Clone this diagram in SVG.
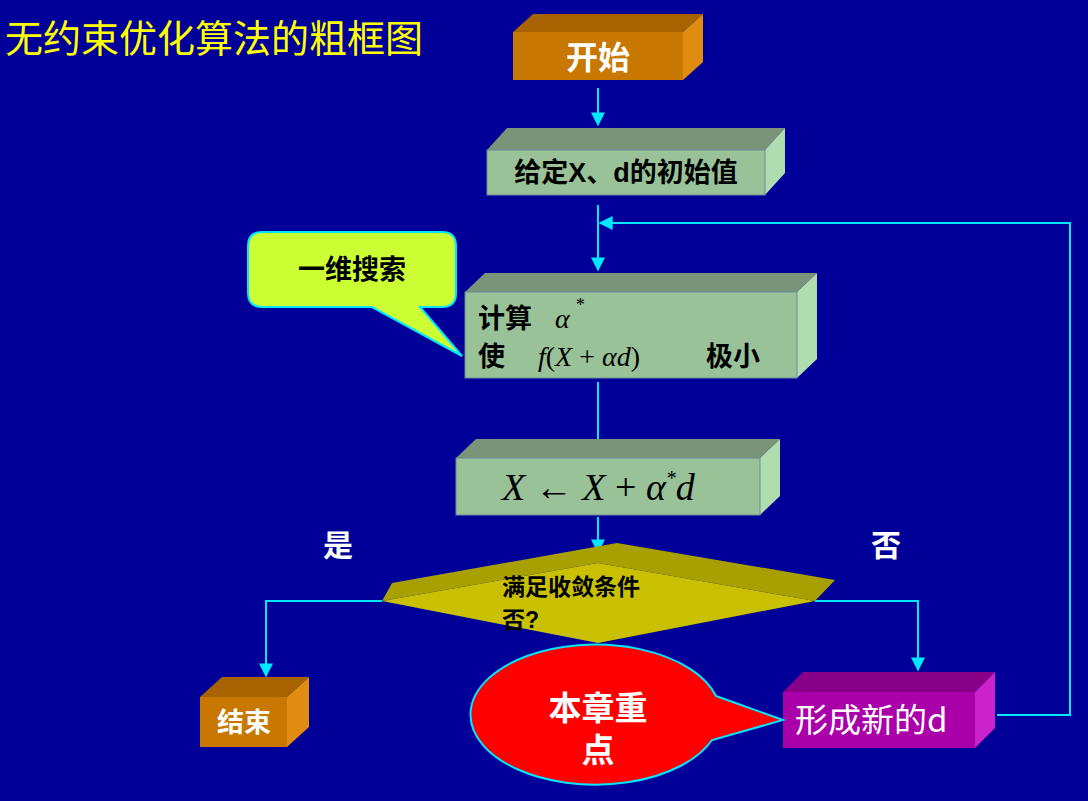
<svg xmlns="http://www.w3.org/2000/svg" width="1088" height="801" viewBox="0 0 1088 801">
<defs>
<style>
.t{font-family:"Liberation Sans","Noto Sans CJK SC",sans-serif;font-weight:bold;}
.m{font-family:"Liberation Serif",serif;font-style:italic;fill:#000;}
.c{stroke:#00e8ff;stroke-width:2;fill:none;}
.gf{fill:#99c299;stroke:#6a8a9a;stroke-width:1}
.gt{fill:#799479}
.gs{fill:#b0ddb0}
</style>
<marker id="a" viewBox="0 0 10 10" refX="9" refY="5" markerWidth="7" markerHeight="7" orient="auto"><path d="M0,0L10,5L0,10z" fill="#00e8ff"/></marker>
</defs>
<rect width="1088" height="801" fill="#000099"/>
<text x="5" y="52" font-family="Noto Sans CJK SC,sans-serif" font-size="38" fill="#ffff00">无约束优化算法的粗框图</text>
<g id="connectors">
<path class="c" d="M598,88V125" marker-end="url(#a)"/>
<path class="c" d="M598,205V270" marker-end="url(#a)"/>
<path class="c" d="M598,382V456" marker-end="url(#a)"/>
<path class="c" d="M598,517V552" marker-end="url(#a)"/>
<path class="c" d="M997,715H1070V223H600" marker-end="url(#a)"/>
<path class="c" d="M382,601H266V676" marker-end="url(#a)"/>
<path class="c" d="M815,601H918V670" marker-end="url(#a)"/>
</g>
<g id="start">
<polygon points="513,32 533,14 703,14 683,32" fill="#a86200"/>
<polygon points="683,32 703,14 703,62 683,80" fill="#e08c10"/>
<rect x="513" y="32" width="170" height="48" fill="#c87800"/>
<text class="t" x="598" y="69" font-size="32" fill="#fff" text-anchor="middle" font-weight="normal">开始</text>
</g>
<g id="init">
<polygon class="gt" points="487,150 507,128 785,128 765,150"/>
<polygon class="gs" points="765,150 785,128 785,173 765,195"/>
<rect class="gf" x="487" y="150" width="278" height="45"/>
<text class="t" x="626" y="182" font-size="27" text-anchor="middle">给定X、d的初始值</text>
</g>
<g id="search">
<polygon class="gt" points="465,292 485,273 817,273 797,292"/>
<polygon class="gs" points="797,292 817,273 817,359 797,378"/>
<rect class="gf" x="465" y="292" width="332" height="86"/>
<text class="t" x="478" y="328" font-size="27">计算</text>
<text class="m" x="555" y="328" font-size="28">α</text>
<text class="m" x="575" y="311" font-size="18">*</text>
<text class="t" x="478" y="366" font-size="27">使</text>
<text class="m" x="538" y="366" font-size="28">f<tspan font-style="normal">(</tspan>X<tspan font-style="normal"> + </tspan>αd<tspan font-style="normal">)</tspan></text>
<text class="t" x="706" y="366" font-size="27">极小</text>
</g>
<g id="update">
<polygon class="gt" points="456,458 476,439 780,439 760,458"/>
<polygon class="gs" points="760,458 780,439 780,496 760,515"/>
<rect class="gf" x="456" y="458" width="304" height="57"/>
<text class="m" x="502" y="500" font-size="38">X <tspan font-style="normal">←</tspan> X <tspan font-style="normal">+</tspan> α<tspan font-size="20" dy="-15">*</tspan><tspan dy="15">d</tspan></text>
</g>
<g id="decision">
<polygon points="382,601 392,583 617,543 835,580 815,601 598,563" fill="#a8a000"/>
<polygon points="382,601 598,563 815,601 598,643" fill="#c8c000"/>
<text class="t" x="502" y="595" font-size="23" font-weight="normal">满足收敛条件</text>
<text class="t" x="502" y="628" font-size="23" font-weight="normal">否?</text>
</g>
<text class="t" x="338" y="556" font-size="30" fill="#fff" text-anchor="middle" font-weight="normal">是</text>
<text class="t" x="886" y="556" font-size="30" fill="#fff" text-anchor="middle" font-weight="normal">否</text>
<g id="end">
<polygon points="200,697 222,677 309,677 287,697" fill="#a86200"/>
<polygon points="287,697 309,677 309,727 287,747" fill="#e08c10"/>
<rect x="200" y="697" width="87" height="50" fill="#c87800"/>
<text class="t" x="244" y="732" font-size="27" fill="#fff" text-anchor="middle" font-weight="normal">结束</text>
</g>
<g id="newd">
<polygon points="783,692 803,672 995,672 975,692" fill="#880088"/>
<polygon points="975,692 995,672 995,728 975,748" fill="#cc22cc"/>
<rect x="783" y="692" width="192" height="56" fill="#aa00aa"/>
<text x="795" y="732" font-family="Noto Sans CJK SC,sans-serif" font-size="33" fill="#fff">形成新的d</text>
</g>
<g id="callout1">
<path d="M262,232H442Q456,232 456,246V293Q456,307 442,307H420L462,356L372,307H262Q248,307 248,293V246Q248,232 262,232Z" fill="#ccff33" stroke="#00e8ff" stroke-width="2"/>
<text class="t" x="352" y="279" font-size="27" text-anchor="middle" font-weight="normal">一维搜索</text>
</g>
<g id="callout2">
<path d="M716,696L783,720L712,740A125,70 0 1 1 716,696Z" fill="#ff0000" stroke="#00e8ff" stroke-width="2"/>
<text class="t" x="598" y="720" font-size="33" fill="#fff" text-anchor="middle">本章重</text>
<text class="t" x="598" y="762" font-size="33" fill="#fff" text-anchor="middle">点</text>
</g>
</svg>
